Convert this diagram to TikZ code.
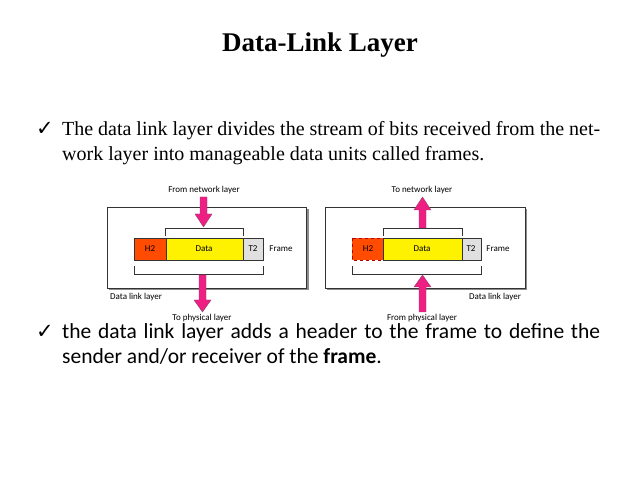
\documentclass[tikz,border=0pt]{standalone}
\usepackage{fontspec}
\setmainfont{Liberation Serif}
\newfontfamily\lbl{Carlito}
\newfontfamily\chk{DejaVu Sans}
\newcommand\nohyph{\hyphenpenalty=10000\relax\exhyphenpenalty=10000\relax}
\begin{document}
\begin{tikzpicture}[x=1pt,y=-1pt,
  lab/.style={font=\lbl\fontsize{9}{10}\selectfont,inner sep=0},
  layer/.style={draw=black!80,line width=0.6pt,fill=white},
  cell/.style={draw=black!80,line width=0.5pt},
  brk/.style={draw=black!80,line width=0.5pt},
  pk/.style={fill=magenta!80!red!90,draw=magenta!50!black,line width=0.4pt},
  txt/.style={inner sep=0,anchor=north west,text width=538pt,align=justify}]
\useasboundingbox (0,0) rectangle (638,478);
\fill[white] (0,0) rectangle (638,478);
\node[font=\bfseries\fontsize{27}{30}\selectfont] (title) at (320,45) {Data-Link Layer};
\node[font=\chk\bfseries\fontsize{21}{22}\selectfont,inner sep=0] (c1) at (45,129) {✓};
\node[txt,font=\fontsize{20}{25}\selectfont] (t1) at (62,121) {\nohyph The data link layer divides the stream of bits received from the network layer into manageable data units called frames.};
\node[font=\chk\bfseries\fontsize{21}{22}\selectfont,inner sep=0] (c2) at (45,332) {✓};
\node[txt,font=\lbl\fontsize{21.5}{25}\selectfont] (t2) at (62,323) {\nohyph the data link layer adds a header to the frame to define the sender and/or receiver of the \textbf{frame}.};
% left
\fill[black!45] (109,209) rectangle (309,290);
\path[layer] (107,207) rectangle (306,288);
\path[cell,fill=orange!60!red] (134,238) rectangle (166,260);
\path[cell,fill=yellow] (166,238) rectangle (243,260);
\path[cell,fill=black!12] (243,238) rectangle (263,260);
\node[lab] (lh2) at (150,249) {H2};
\node[lab] (ldata) at (204,249) {Data};
\node[lab] (lt2) at (253,249) {T2};
\node[lab] (lfr) at (281,249) {Frame};
\draw[brk] (165,236) -- (165,228) -- (243,228) -- (243,236);
\draw[brk] (134,266) -- (134,274) -- (263,274) -- (263,266);
\path[pk] (200,197) -- (207,197) -- (207,214) -- (212,214) -- (203.5,227) -- (195,214) -- (200,214) -- cycle;
\path[pk] (199,275) -- (206,275) -- (206,300) -- (211,300) -- (202.5,312) -- (194,300) -- (199,300) -- cycle;
\node[lab] (l1) at (204,190) {From network layer};
\node[lab] (l2) at (202,318) {To physical layer};
\node[lab] (l3) at (136,297) {Data link layer};
% right
\fill[black!45] (327,209) rectangle (527,290);
\path[layer] (325,207) rectangle (525,288);
\path[cell,fill=orange!60!red,dashed,draw=red!70!black] (352,238) rectangle (383,260);
\path[cell,fill=yellow] (383,238) rectangle (462,260);
\path[cell,fill=black!12] (462,238) rectangle (481,260);
\node[lab] (rh2) at (368,249) {H2};
\node[lab] (rdata) at (422,249) {Data};
\node[lab] (rt2) at (471,249) {T2};
\node[lab] (rfr) at (498,249) {Frame};
\draw[brk] (383,236) -- (383,228) -- (462,228) -- (462,236);
\draw[brk] (352,266) -- (352,274) -- (481,274) -- (481,266);
\path[pk] (419,228) -- (426,228) -- (426,210) -- (431,210) -- (422.5,197) -- (414,210) -- (419,210) -- cycle;
\path[pk] (419,312) -- (426,312) -- (426,287) -- (431,287) -- (422.5,275) -- (414,287) -- (419,287) -- cycle;
\node[lab] (r1) at (422,190) {To network layer};
\node[lab] (r2) at (422,318) {From physical layer};
\node[lab] (r3) at (495,297) {Data link layer};
\end{tikzpicture}
\end{document}
